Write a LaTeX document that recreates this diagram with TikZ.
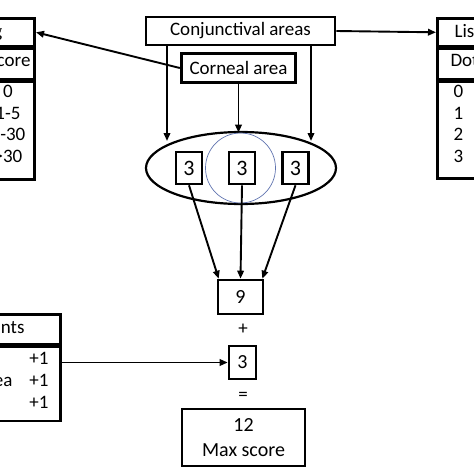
\documentclass[tikz,border=0pt]{standalone}
\usepackage{fontspec}
\setmainfont{Carlito}
\usetikzlibrary{arrows.meta, positioning, shapes.geometric}

\begin{document}
\begin{tikzpicture}[x=1pt,y=-1pt,
    font=\fontsize{19}{24}\selectfont,
    box/.style={draw, line width=2.6pt, inner sep=0pt},
    cell/.style={draw, line width=2.6pt, inner sep=0pt, minimum height=28pt},
    arr/.style={line width=1.9pt, -{Triangle[length=8pt,width=6.5pt]}}]
    \useasboundingbox (0,0) rectangle (474,474);
    \clip (0,0) rectangle (474,474);

    \node[box, minimum width=189pt, minimum height=28pt] (conj) at (240.5,31) {Conjunctival areas};
    \node[box, line width=3.3pt, minimum width=114pt, minimum height=29pt] (corn) at (238.5,68) {Corneal area};

    \node[draw, ellipse, line width=2.2pt, minimum width=190pt, minimum height=72pt] (eye) at (241,168) {};
    \node[draw, circle, line width=0.7pt, draw={rgb,255:red,95;green,115;blue,175}, minimum size=70pt] (pupil) at (240.5,168) {};
    \node[box, font=\fontsize{22}{24}\selectfont, minimum width=26pt, minimum height=32pt] (s1) at (189,168) {3};
    \node[box, font=\fontsize{22}{24}\selectfont, minimum width=26pt, minimum height=32pt] (s2) at (242,168) {3};
    \node[box, font=\fontsize{22}{24}\selectfont, minimum width=26pt, minimum height=32pt] (s3) at (295.5,168) {3};

    \node[box, font=\fontsize{20}{24}\selectfont, minimum width=45pt, minimum height=34pt] (nine) at (240.5,297) {9};
    \node (plus) at (243,329) {+};
    \node[box, font=\fontsize{20}{24}\selectfont, minimum width=27pt, minimum height=33pt] (extra) at (242.5,362.5) {3};
    \node (eq) at (243,396) {=};
    \node[box, font=\fontsize{20}{25}\selectfont, minimum width=123pt, minimum height=57pt, align=center] (max) at (243.5,437.5) {12\\Max score};

    % left table
    \node[cell, minimum width=140pt, anchor=north east] (fluo) at (36,17) {};
    \node[cell, minimum width=140pt, minimum height=30pt, anchor=north] (fluohd) at (fluo.south) {};
    \node[cell, minimum width=140pt, minimum height=98pt, anchor=north] (fluobody) at (fluohd.south) {};
    \node[anchor=base east] at (6,37) {Fluorescein staining};
    \node[anchor=base east] at (34,66) {Score};
    \foreach \v/\y in {0/97, 1-5/119, 6-30/140, >30/162}
        \node[anchor=base] at (8,\y) {\v};

    % right table
    \node[cell, minimum width=160pt, anchor=north west] (liss) at (436,17) {};
    \node[cell, minimum width=160pt, minimum height=30pt, anchor=north] (lisshd) at (liss.south) {};
    \node[cell, minimum width=160pt, minimum height=97pt, anchor=north] (lissbody) at (lisshd.south) {};
    \node[anchor=base west] at (451,37) {Lissamine green};
    \node[anchor=base west] at (447,66) {Dots};
    \foreach \v/\y in {0/97, 1/119, 2/140, 3/162}
        \node[anchor=base west] at (450,\y) {\v};

    % extra points
    \node[cell, minimum width=180pt, minimum height=30pt, anchor=north east] (xp) at (62,313) {};
    \node[cell, minimum width=180pt, minimum height=74pt, anchor=north] (xpbody) at (xp.south) {};
    \node[anchor=base east] at (28,333) {Extra points};
    \foreach \t/\x/\y in {Confluent/-4/364, Pupillary area/16/386, Filaments/-4/408}
        \node[anchor=base east] at (\x,\y) {\t};
    \foreach \y in {364, 386, 408}
        \node[anchor=base east] at (52,\y) {+1};

    \coordinate (cl) at (167,141);
    \coordinate (cr) at (311,141);
    \draw[arr] (conj.south -| cl) -- (cl);
    \draw[arr] (conj.south -| cr) -- (cr);
    \draw[arr] (corn.south) -- (corn.south |- pupil.north);
    \draw[arr] (corn.west) -- (fluo.east);
    \draw[arr] (conj.east) -- (liss.west);
    \draw[arr] (s1.south) -- ([xshift=2pt]nine.north west);
    \draw[arr] (s2.south) -- (nine.north);
    \draw[arr] (s3.south) -- ([xshift=-2pt]nine.north east);
    \draw[arr] (xpbody.north east |- extra) -- (extra.west);
\end{tikzpicture}
\end{document}
